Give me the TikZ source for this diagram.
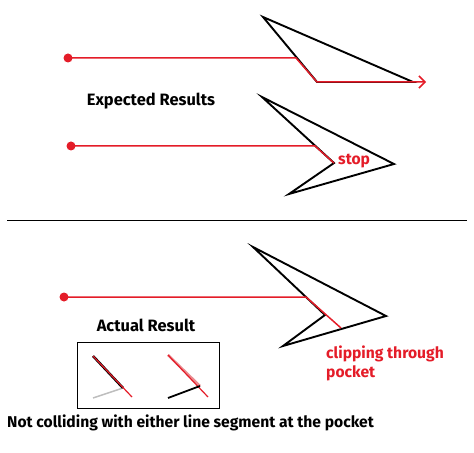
\documentclass[tikz,border=0pt]{standalone}
\usepackage{fontspec}
\setmainfont{Fira Sans}
\usetikzlibrary{arrows.meta}
\definecolor{myred}{RGB}{228,28,40}
\definecolor{mypink}{RGB}{235,140,145}
\definecolor{mygrey}{RGB}{190,190,190}
\begin{document}
\begin{tikzpicture}[x=1bp,y=-1bp,
  poly/.style={draw=black,line width=1.9bp,line join=miter},
  redpath/.style={draw=myred,line width=1.5bp},
  dot/.style={circle,fill=myred,inner sep=0pt,minimum size=9bp},
  lbl/.style={font=\bfseries\fontsize{16.5}{19}\selectfont,inner sep=0pt},
  rlbl/.style={font=\bfseries\fontsize{15.7}{19}\selectfont,inner sep=0pt,text=myred,align=left}]
\useasboundingbox (0,0) rectangle (474,453);
% shape 1
\coordinate (a1) at (263,17); \coordinate (p1) at (317,82); \coordinate (t1) at (413,82);
\draw[poly] (a1) -- (p1) -- (t1) -- cycle;
\node[dot] (d1) at (68,58) {};
\coordinate (e1) at (296,58); \coordinate (end1) at (426,82);
\draw[redpath,-{Straight Barb[length=6bp,width=12bp]}] (d1.center) -- (e1) -- (p1) -- (end1);
\node[lbl] (exp) at (151,101) {Expected Results};
% shape 2
\coordinate (a2) at (262,97); \coordinate (p2) at (334,163); \coordinate (b2) at (289,194); \coordinate (t2) at (394,164);
\draw[poly] (a2) -- (p2) -- (b2) -- (t2) -- cycle;
\node[dot] (d2) at (71,146) {};
\coordinate (e2) at (315,146);
\draw[redpath] (d2.center) -- (e2) -- (p2);
\node[rlbl,anchor=west] (stop) at (338,161) {stop};
% separator
\coordinate (s1) at (7,221); \coordinate (s2) at (467,221);
\draw[line width=1bp] (s1) -- (s2);
% shape 3
\coordinate (a3) at (253,247); \coordinate (p3) at (325,315); \coordinate (b3) at (283,346); \coordinate (t3) at (386,316);
\draw[poly] (a3) -- (p3) -- (b3) -- (t3) -- cycle;
\node[dot] (d3) at (64,297) {};
\coordinate (e3) at (306,297); \coordinate (end3) at (341,328);
\draw[redpath] (d3.center) -- (e3) -- (end3);
\node[rlbl,anchor=base west] (clip) at (326,377) {clipping through\\pocket};
\node[lbl] (act) at (146,325) {Actual Result};
% box
\node[draw,line width=1bp,minimum width=142bp,minimum height=66bp,inner sep=0pt] (box) at (148,375) {};
\coordinate (l1) at (93,356); \coordinate (l2) at (123,388); \coordinate (l3) at (132,397); \coordinate (l4) at (93,398);
\draw[mygrey,line width=1.5bp] (l4) -- (l2);
\draw[black,line width=2.5bp] (l1) -- (l2);
\draw[myred,line width=1.2bp] (l1) -- (l3);
\coordinate (r1) at (168,355); \coordinate (r2) at (200,386); \coordinate (r3) at (208,397); \coordinate (r4) at (168,398);
\draw[mypink,line width=2.5bp] (r1) -- (r2);
\draw[myred,line width=1.2bp] (r1) -- (r3);
\draw[black,line width=1.8bp] (r4) -- (r2);
\node[lbl,font=\bfseries\fontsize{15.7}{18}\selectfont,anchor=west] (nc) at (7,423) {Not colliding with either line segment at the pocket};
\end{tikzpicture}
\end{document}
